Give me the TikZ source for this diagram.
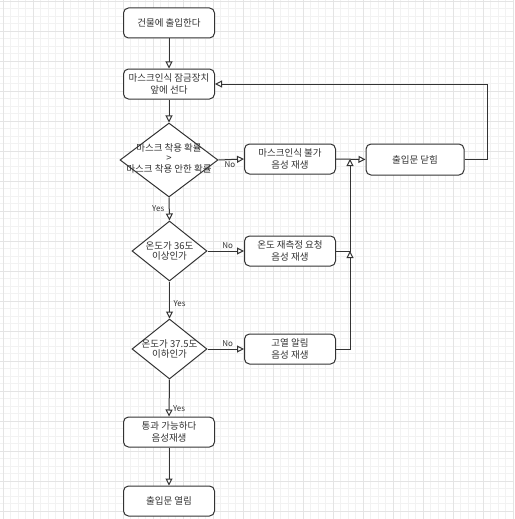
\documentclass[tikz,border=0pt]{standalone}
\usepackage{fontspec}
\setmainfont{Noto Sans CJK KR}
\usetikzlibrary{shapes.geometric,arrows.meta}
\definecolor{lc}{HTML}{333333}
\definecolor{gminor}{HTML}{F2F2F2}
\definecolor{gmajor}{HTML}{E4E4E4}
\tikzset{
  box/.style={draw=lc, line width=1pt, fill=white, rounded corners=5pt, minimum width=91pt, minimum height=30pt, inner sep=1pt, align=center, font=\fontsize{9.5}{11.5}\selectfont, text=lc},
  dia/.style={draw=lc, line width=1pt, fill=white, shape=diamond, inner sep=0pt},
  dtext/.style={align=center, font=\fontsize{9.5}{10.5}\selectfont, text=lc},
  conn/.style={draw=lc, line width=1pt, -{Triangle[open, length=7pt, width=7pt, fill=white]}},
  lab/.style={font=\fontsize{8}{9}\selectfont, text=lc, inner sep=1.5pt}
}
\begin{document}
\begin{tikzpicture}[x=1pt, y=-1pt]
\useasboundingbox (0,0) rectangle (514,519);
\fill[white] (0,0) rectangle (514,519);
% grid
\foreach \i in {0,...,68} {
  \draw[gminor, line width=0.6pt] ({3+7.5*\i},0) -- ({3+7.5*\i},519);
  \draw[gminor, line width=0.6pt] (0,{1+7.5*\i}) -- (514,{1+7.5*\i});
}
\foreach \i in {0,...,17} {
  \draw[gmajor, line width=0.7pt] ({3+30*\i},0) -- ({3+30*\i},519);
  \draw[gmajor, line width=0.7pt] (0,{1+30*\i}) -- (514,{1+30*\i});
}
% nodes
\node[box] (b1) at (169,23) {건물에 출입한다};
\node[box] (b2) at (169,84) {마스크인식 잠금장치\\앞에 선다};
\node[dia, minimum width=98pt, minimum height=74pt,
  label={[dtext, yshift=2pt]center:마스크 착용 확률\\>\\마스크 착용 안한 확률}] (d1) at (169,160) {};
\node[box] (b3) at (290,159) {마스크인식 불가\\음성 재생};
\node[box, minimum width=98pt, minimum height=31pt] (cl) at (415,159.5) {출입문 닫힘};
\node[dia, minimum width=75pt, minimum height=60pt,
  label={[dtext]center:온도가 36도\\이상인가}] (d2) at (169.5,251) {};
\node[box] (b4) at (290,251) {온도 재측정 요청\\음성 재생};
\node[dia, minimum width=75pt, minimum height=60pt,
  label={[dtext]center:온도가 37.5도\\이하인가}] (d3) at (169.5,349) {};
\node[box] (b5) at (290,349) {고열 알림\\음성 재생};
\node[box] (b6) at (169,432) {통과 가능하다\\음성재생};
\node[box] (b7) at (169,501) {출입문 열림};
\coordinate (j1) at (350,159);
\coordinate (j2) at (350,251);
\coordinate (c1) at (487,159.5);
% connectors
\draw[conn] (b1) -- (b2);
\draw[conn] (b2) -- (d1);
\draw[conn] (d1.east) -- node[lab, pos=0.45, below] {No} (b3.west);
\draw[conn] (b3.east) -- (cl.west);
\draw[conn] (d1.south) -- node[lab, pos=0.5, left, xshift=-3pt] {Yes} (d2.north);
\draw[conn] (d2.east) -- node[lab, pos=0.55, above] {No} (b4.west);
\draw[conn] (b4.east) -| (j1);
\draw[conn] (b5.east) -| (j2);
\draw[conn] (d2.south) -- node[lab, pos=0.6, right, xshift=2pt] {Yes} (d3.north);
\draw[conn] (d3.east) -- node[lab, pos=0.55, above] {No} (b5.west);
\draw[conn] (d3.south) -- node[lab, pos=0.8, right, xshift=2pt] {Yes} (b6.north);
\draw[conn] (b6) -- (b7);
\draw[conn] (cl.east) -- (c1) |- (b2.east);
\end{tikzpicture}
\end{document}
